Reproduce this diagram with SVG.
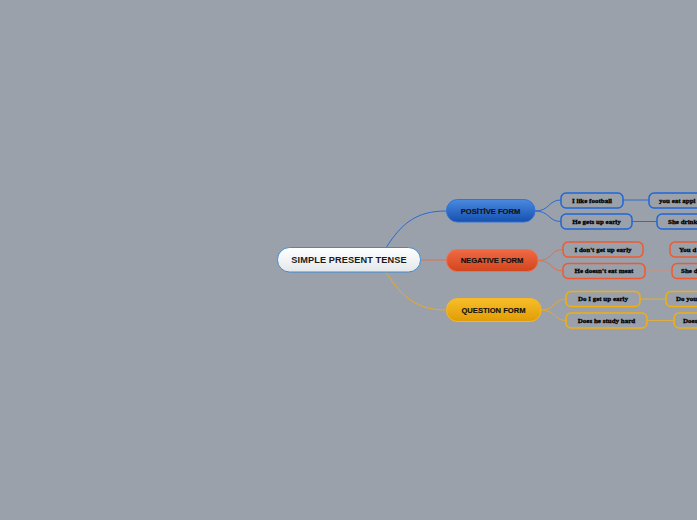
<svg xmlns="http://www.w3.org/2000/svg" width="697" height="520" viewBox="0 0 697 520">
<defs>
<linearGradient id="gC" x1="0" y1="0" x2="0" y2="1"><stop offset="0" stop-color="#ffffff"/><stop offset="1" stop-color="#e4e7ea"/></linearGradient>
<linearGradient id="gB" x1="0" y1="0" x2="0" y2="1"><stop offset="0" stop-color="#4a8ae0"/><stop offset="1" stop-color="#1550b0"/></linearGradient>
<linearGradient id="gO" x1="0" y1="0" x2="0" y2="1"><stop offset="0" stop-color="#f06a45"/><stop offset="1" stop-color="#d2451c"/></linearGradient>
<linearGradient id="gY" x1="0" y1="0" x2="0" y2="1"><stop offset="0" stop-color="#f7be2a"/><stop offset="1" stop-color="#e19c05"/></linearGradient>
</defs>
<style>
.main{font-family:"Liberation Sans",Arial,sans-serif;font-weight:bold;font-size:7.6px;fill:#111;stroke:#111;stroke-width:0.15;text-anchor:middle}
.ctr{font-family:"Liberation Sans",Arial,sans-serif;font-weight:bold;font-size:9.2px;fill:#1a1a1a;letter-spacing:0.1px;text-anchor:middle}
.sub{font-family:"Liberation Serif","Times New Roman",serif;font-weight:bold;font-size:7px;fill:#000;stroke:#000;stroke-width:0.3;text-anchor:middle}
.gsub{font-family:"Liberation Serif","Times New Roman",serif;font-weight:bold;font-size:7px;fill:#000;stroke:#000;stroke-width:0.3}
.cb{fill:none;stroke:#1f66d8;stroke-width:1.5}
.co{fill:none;stroke:#ee5a30;stroke-width:1.5}
.cy{fill:none;stroke:#f2ae10;stroke-width:1.5}
.lb{fill:none;stroke:#2a6ad4;stroke-width:1}
.lo{fill:none;stroke:#e0704f;stroke-width:1}
.ly{fill:none;stroke:#e8aa25;stroke-width:1}
.lo2{fill:none;stroke:#d88a78;stroke-width:1}
.ly2{fill:none;stroke:#dcae45;stroke-width:1}
</style>
<rect width="697" height="520" fill="#9aa1aa"/>
<g id="connectors">
<path class="lb" d="M386,248 C402,222 418,211 446,211"/>
<path class="lo" d="M421,260 L446,260"/>
<path class="ly" d="M386,272 C402,298 418,310 446,310"/>
<path class="lb" d="M535,211 C550,211 548,200 561,200"/>
<path class="lb" d="M535,211 C550,211 548,221.5 561,221.5"/>
<path class="lo" d="M538,260.5 C553,260.5 550,249.5 563,249.5"/>
<path class="lo" d="M538,260.5 C553,260.5 550,271 563,271"/>
<path class="ly" d="M541,310 C556,310 553,299 566,299"/>
<path class="ly" d="M541,310 C556,310 553,320.5 566,320.5"/>
<path class="lb" d="M623,200 L649,200"/>
<path class="lb" d="M632,221.5 L657,221.5"/>
<path class="lo2" d="M643,249.5 L670,249.5"/>
<path class="lo2" d="M645,271 L672,271"/>
<path class="ly2" d="M640,299 L666,299"/>
<path class="ly2" d="M647,320.5 L674,320.5"/>
</g>
<g id="central">
<rect x="277.5" y="247.5" width="143" height="24.5" rx="12" fill="url(#gC)" stroke="#3f8ad2" stroke-width="1"/>
<text class="ctr" x="349" y="263.3">SIMPLE PRESENT TENSE</text>
</g>
<g id="positive">
<rect x="446.5" y="199.5" width="88.5" height="22.5" rx="11" fill="url(#gB)" stroke="#2f74d8" stroke-width="1"/>
<text class="main" x="490.5" y="213.6">POSİTİVE FORM</text>
</g>
<g id="negative">
<rect x="446.5" y="249.5" width="91.5" height="22" rx="11" fill="url(#gO)" stroke="#f07048" stroke-width="1"/>
<text class="main" x="492" y="263.4">NEGATIVE FORM</text>
</g>
<g id="question">
<rect x="446.5" y="298.5" width="94.5" height="23" rx="11" fill="url(#gY)" stroke="#f4b828" stroke-width="1"/>
<text class="main" x="493.5" y="312.8">QUESTION FORM</text>
</g>
<g id="p1"><rect class="cb" x="561" y="193" width="62" height="15" rx="5"/><text class="sub" x="592" y="202.8">I like football</text></g>
<g id="p2"><rect class="cb" x="561" y="214" width="71" height="15" rx="5"/><text class="sub" x="596.5" y="223.8">He gets up early</text></g>
<g id="p1a"><rect class="cb" x="649" y="193" width="80" height="15" rx="5"/><text class="gsub" x="659" y="202.8">you eat appl</text></g>
<g id="p2a"><rect class="cb" x="657" y="214" width="80" height="15" rx="5"/><text class="gsub" x="668" y="223.8">She drink</text></g>
<g id="n1"><rect class="co" x="563" y="242" width="80" height="15" rx="5"/><text class="sub" x="603" y="251.8">I don't get up early</text></g>
<g id="n2"><rect class="co" x="563" y="263.5" width="82" height="15" rx="5"/><text class="sub" x="604" y="273.3">He doesn't eat meat</text></g>
<g id="n1a"><rect class="co" x="670" y="242" width="80" height="15" rx="5"/><text class="gsub" x="679" y="251.8">You d</text></g>
<g id="n2a"><rect class="co" x="672" y="263.5" width="80" height="15" rx="5"/><text class="gsub" x="681" y="273.3">She d</text></g>
<g id="q1"><rect class="cy" x="566" y="291.5" width="74" height="15" rx="5"/><text class="sub" x="603" y="301.3">Do I get up early</text></g>
<g id="q2"><rect class="cy" x="566" y="313" width="81" height="15" rx="5"/><text class="sub" x="606.5" y="322.8">Does he study hard</text></g>
<g id="q1a"><rect class="cy" x="666" y="291.5" width="80" height="15" rx="5"/><text class="gsub" x="676" y="301.3">Do you</text></g>
<g id="q2a"><rect class="cy" x="674" y="313" width="80" height="15" rx="5"/><text class="gsub" x="683" y="322.8">Does</text></g>
</svg>
